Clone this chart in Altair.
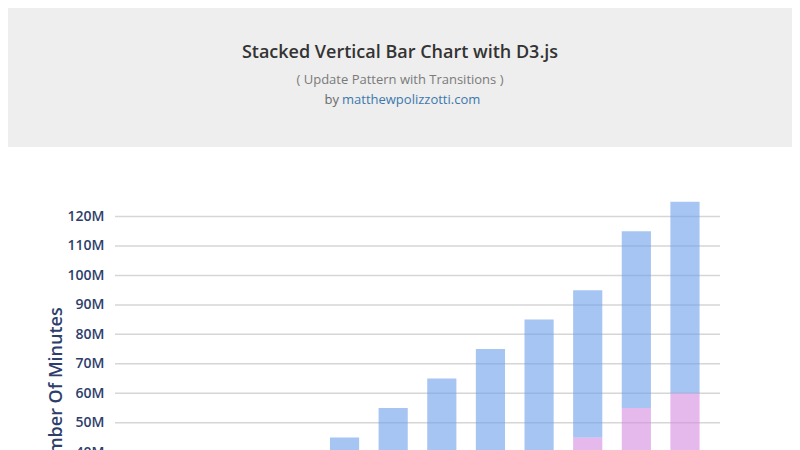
import altair as alt
import pandas as pd

# ---- data ----
categories = ["Jan", "Feb", "Mar", "Apr", "May", "Jun",
              "Jul", "Aug", "Sep", "Oct", "Nov", "Dec"]
blue_values = [5e6, 15e6, 25e6, 35e6, 45e6, 55e6, 65e6, 75e6, 85e6, 50e6, 60e6, 65e6]
pink_values = [0, 0, 0, 0, 0, 0, 0, 0, 0, 45e6, 55e6, 60e6]
series_names = ["Series B", "Series A"]          # bottom (pink), top (blue)
series_colors = ["#d58ae0", "#6d9eeb"]
y_ticks = [0, 10e6, 20e6, 30e6, 40e6, 50e6, 60e6, 70e6, 80e6, 90e6, 100e6, 110e6, 120e6]

title_text = "Stacked Vertical Bar Chart with D3.js"
subtitle_text = "( Update Pattern with Transitions )"
by_text = "by"
link_text = "matthewpolizzotti.com"
y_title = "Number Of Minutes"

# ---- table ----
rows = []
for c, p, b in zip(categories, pink_values, blue_values):
    rows.append({"category": c, "series": series_names[0], "minutes": p, "order": 0})
    rows.append({"category": c, "series": series_names[1], "minutes": b, "order": 1})
df = pd.DataFrame(rows)

NAVY = "#2d3e6b"
FONT = "Open Sans"
X_RANGE = [107, 712]
yscale = alt.Scale(domain=[0, 120e6], range=[423, 69.5], nice=False, zero=True)
yaxis = alt.Axis(values=y_ticks, format="~s", orient="left", offset=-107,
                 domain=False, ticks=False, grid=False, labelPadding=11,
                 labelFont=FONT, labelFontSize=14, labelFontWeight=600, labelColor=NAVY,
                 title=y_title, titleFont=FONT, titleFontSize=18, titleFontWeight=600,
                 titleColor=NAVY, titlePadding=2)

grid = alt.Chart(pd.DataFrame({"tick": y_ticks})).mark_rule(
    color="#d6d6d6", strokeWidth=1.5
).encode(
    y=alt.Y("tick:Q", scale=yscale, axis=yaxis),
    x=alt.value(X_RANGE[0]), x2=alt.value(X_RANGE[1]),
)

bars = alt.Chart(df).mark_bar(opacity=0.6).encode(
    x=alt.X("category:N", sort=categories,
            scale=alt.Scale(range=X_RANGE, paddingInner=0.4, paddingOuter=0.42),
            axis=alt.Axis(title=None, domain=False, ticks=False, labelFont=FONT,
                          labelFontSize=14, labelColor=NAVY, labelAngle=0)),
    y=alt.Y("minutes:Q", stack="zero", scale=yscale, axis=yaxis),
    color=alt.Color("series:N", scale=alt.Scale(domain=series_names, range=series_colors),
                    legend=None),
    order=alt.Order("order:Q"),
)

def header_text(txt, x, y, size, color, weight=400, align="center"):
    return alt.Chart(pd.DataFrame({"t": [txt]})).mark_text(
        font=FONT, fontSize=size, fontWeight=weight, color=color,
        align=align, baseline="middle"
    ).encode(text="t:N", x=alt.value(x), y=alt.value(y))

h1 = header_text(title_text, 392, -94, 18, "#333333", 600)
h2 = header_text(subtitle_text, 392, -67, 13, "#7a7a7a")
h3 = header_text(by_text, 331, -47, 13, "#6a6a6a", align="right")
h4 = header_text(link_text, 334, -47, 13, "#3d78ad", align="left")

chart = alt.layer(grid, bars, h1, h2, h3, h4).properties(
    width=784, height=440,
    background="#eeeeee",
    padding={"top": 36, "left": 0, "right": 0, "bottom": 0},
).configure_view(fill="white", strokeWidth=0)

chart.save("out.html", embed_options={"renderer": "svg", "actions": False})
